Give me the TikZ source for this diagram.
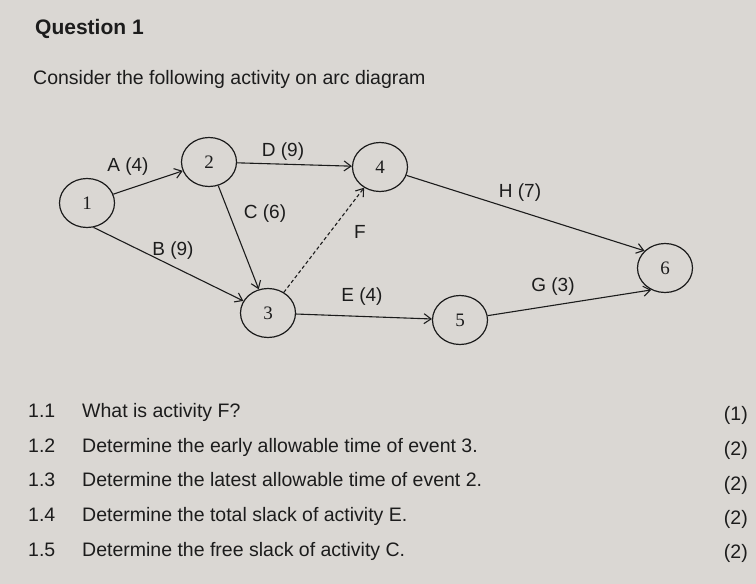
\documentclass[tikz,border=0pt]{standalone}
\usepackage{fontspec}
\setmainfont{Liberation Sans}
\newfontfamily\eventfont{Liberation Serif}
\usetikzlibrary{arrows.meta,positioning,shapes.geometric}
\definecolor{paper}{RGB}{218,215,211}
\definecolor{ink}{RGB}{28,28,28}
\tikzstyle{event}=[
	ellipse,
	draw=ink,
	line width=1.2,
	minimum width=55,
	minimum height=49,
	inner sep=0,
	text=ink,
	font=\eventfont\fontsize{19}{19}\selectfont]
\tikzstyle{activity}=[
	inner sep=0,
	text=ink,
	font=\fontsize{19}{22}\selectfont]
\tikzstyle{txt}=[
	inner sep=0,
	anchor=base west,
	text=ink,
	font=\fontsize{19.5}{23}\selectfont]
\tikzstyle{score}=[txt,anchor=base east]
\begin{document}
\begin{tikzpicture}[x=1pt,y=-1pt,>={Straight Barb[length=7pt,width=10pt]}]
	\fill[paper] (0,0) rectangle (756,584);
	% heading
	\node[txt,font=\bfseries\fontsize{21}{25}\selectfont] (title) at (35,34) {Question 1};
	\node[txt] (intro) at (33,84) {Consider the following activity on arc diagram};
	% activity on arc network
	\begin{scope}[draw=ink,line width=1.1]
		\node[event] (n1) at (87,203) {1};
		\node[event] (n2) at (209,162) {2};
		\node[event] (n3) at (268,313) {3};
		\node[event] (n4) at (380,167) {4};
		\node[event] (n5) at (460,320) {5};
		\node[event] (n6) at (665,268) {6};
		\draw[->] (n1) -- (n2);
		\draw[->] (n1.-75) -- (n3);
		\draw[->] (n2) -- (n4);
		\draw[->] (n2) -- (n3);
		\draw[->,dash pattern=on 3.5pt off 2.5pt] (n3) -- (n4);
		\draw[->] (n3) -- (n5);
		\draw[->] (n4) -- (n6.140);
		\draw[->] (n5) -- (n6.-122);
		\node[activity] (lA) at (128,167) {A (4)};
		\node[activity] (lB) at (173,251) {B (9)};
		\node[activity] (lC) at (265,214) {C (6)};
		\node[activity] (lD) at (283,152) {D (9)};
		\node[activity] (lE) at (362,297) {E (4)};
		\node[activity] (lF) at (360,232) {F};
		\node[activity] (lG) at (553,287) {G (3)};
		\node[activity] (lH) at (520,193) {H (7)};
	\end{scope}
	% questions
	\node[txt] (q1) at (28,417) {1.1};
	\node[txt] (t1) at (82,417) {What is activity F?};
	\node[score] (s1) at (748,420) {(1)};
	\node[txt] (q2) at (28,452) {1.2};
	\node[txt] (t2) at (82,452) {Determine the early allowable time of event 3.};
	\node[score] (s2) at (748,455) {(2)};
	\node[txt] (q3) at (28,486) {1.3};
	\node[txt] (t3) at (82,486) {Determine the latest allowable time of event 2.};
	\node[score] (s3) at (748,490) {(2)};
	\node[txt] (q4) at (28,521) {1.4};
	\node[txt] (t4) at (82,521) {Determine the total slack of activity E.};
	\node[score] (s4) at (748,524) {(2)};
	\node[txt] (q5) at (28,556) {1.5};
	\node[txt] (t5) at (82,556) {Determine the free slack of activity C.};
	\node[score] (s5) at (748,558) {(2)};
\end{tikzpicture}
\end{document}
